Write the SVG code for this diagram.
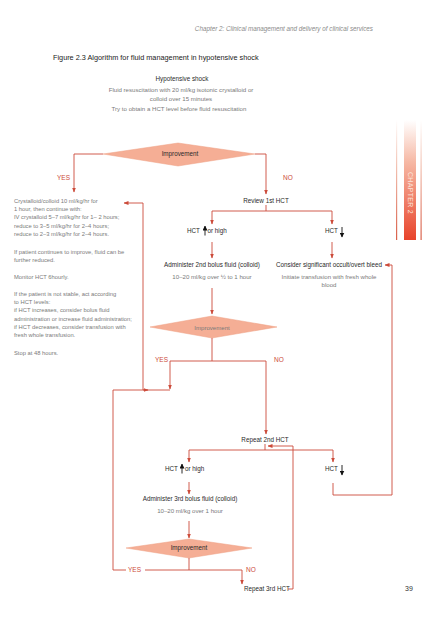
<svg xmlns="http://www.w3.org/2000/svg" width="426" height="640" viewBox="0 0 426 640">
<defs>
<marker id="ah" viewBox="0 0 10 10" refX="9" refY="5" markerWidth="5" markerHeight="5" orient="auto" markerUnits="userSpaceOnUse">
<path d="M0,1 L10,5 L0,9 Z" fill="#cc4b3a"/>
</marker>
<marker id="bk" viewBox="0 0 10 10" refX="9" refY="5" markerWidth="5" markerHeight="5" orient="auto" markerUnits="userSpaceOnUse">
<path d="M0,0 L10,5 L0,10 Z" fill="#111"/>
</marker>
<linearGradient id="tab" x1="0" y1="0" x2="0" y2="1">
<stop offset="0" stop-color="#ffffff"/>
<stop offset="0.35" stop-color="#f6b8a4"/>
<stop offset="1" stop-color="#e8432b"/>
</linearGradient>
<linearGradient id="tabl" x1="0" y1="0" x2="0" y2="1">
<stop offset="0" stop-color="#ffffff"/>
<stop offset="0.4" stop-color="#f2c0b0"/>
<stop offset="1" stop-color="#d9604a"/>
</linearGradient>
</defs>
<style>
text{font-family:"Liberation Sans","DejaVu Sans",sans-serif;}
.b{font-size:6.1px;fill:#7a7a7a;}
.l{font-size:5.8px;fill:#7a7a7a;}
.d{font-size:6.3px;fill:#2a2a2a;}
.r{font-size:6.5px;fill:#cc4b3a;}
.c{text-anchor:middle;}
.ln{fill:none;stroke:#cc4b3a;stroke-width:0.9;}
.dm{fill:#f5ae95;stroke:#eea085;stroke-width:0.5;}
</style>
<rect width="426" height="640" fill="#ffffff"/>
<g id="header">
<text x="373" y="31" font-size="6.3" font-style="italic" fill="#8a8a8a" text-anchor="end">Chapter 2: Clinical management and delivery of clinical services</text>
<text x="53" y="59.5" font-size="7.3" fill="#222">Figure 2.3 Algorithm for fluid management in hypotensive shock</text>
</g>
<g id="chapter-tab">
<rect x="396" y="120" width="1.2" height="120" fill="url(#tabl)"/>
<rect x="404" y="120" width="12" height="120" fill="url(#tab)"/>
<rect x="420.5" y="120" width="1.2" height="120" fill="url(#tabl)"/>
<text transform="translate(407.5,172) rotate(90)" font-size="7" fill="#fbe3da" letter-spacing="0.3">CHAPTER 2</text>
</g>
<g id="start">
<text class="d c" x="182" y="81">Hypotensive shock</text>
<text class="b c" x="181" y="92">Fluid resuscitation with 20 ml/kg isotonic crystalloid or</text>
<text class="b c" x="181" y="100.5">colloid over 15 minutes</text>
<text class="b c" x="179" y="111">Try to obtain a HCT level before fluid resuscitation</text>
</g>
<g id="improvement-1">
<polygon class="dm" points="103,154 178,143 255,154 178,166"/>
<text class="d c" x="180" y="156">Improvement</text>
</g>
<g id="fluid-plan">
<text class="l" x="14" y="203">Crystalloid/colloid 10 ml/kg/hr for</text>
<text class="l" x="14" y="211.2">1 hour, then continue with:</text>
<text class="l" x="14" y="219.4">IV crystalloid 5–7 ml/kg/hr for 1– 2 hours;</text>
<text class="l" x="14" y="227.6">reduce to 3–5 ml/kg/hr for 2–4 hours;</text>
<text class="l" x="14" y="235.8">reduce to 2–3 ml/kg/hr for 2–4 hours.</text>
<text class="l" x="14" y="253.5">If patient continues to improve, fluid can be</text>
<text class="l" x="14" y="261.7">further reduced.</text>
<text class="l" x="14" y="278.5">Monitor HCT 6hourly.</text>
<text class="l" x="14" y="296">If the patient is not stable, act according</text>
<text class="l" x="14" y="304.2">to HCT levels:</text>
<text class="l" x="14" y="312.4">if HCT increases, consider bolus fluid</text>
<text class="l" x="14" y="320.6">administration or increase fluid administration;</text>
<text class="l" x="14" y="328.8">if HCT decreases, consider transfusion with</text>
<text class="l" x="14" y="337">fresh whole transfusion.</text>
<text class="l" x="14" y="355">Stop at 48 hours.</text>
</g>
<g id="review-1">
<text class="d c" x="266" y="203">Review 1st HCT</text>
</g>
<g id="hct-up-1">
<text class="d" x="187" y="233">HCT</text>
<line x1="205" y1="235.5" x2="205" y2="226" stroke="#111" stroke-width="0.9" marker-end="url(#bk)"/>
<text class="d" x="207.5" y="233">or high</text>
</g>
<g id="hct-down-1">
<text class="d" x="325" y="233">HCT</text>
<line x1="342" y1="227" x2="342" y2="237" stroke="#111" stroke-width="0.9" marker-end="url(#bk)"/>
</g>
<g id="bolus-2">
<text class="d c" x="212" y="267">Administer 2nd bolus fluid (colloid)</text>
<text class="b c" x="212" y="278.5">10–20 ml/kg over ½ to 1 hour</text>
</g>
<g id="bleed">
<text class="d c" x="329" y="267">Consider significant occult/overt bleed</text>
<text class="b c" x="329" y="278.5">Initiate transfusion with fresh whole</text>
<text class="b c" x="329" y="286.5">blood</text>
</g>
<g id="improvement-2">
<polygon class="dm" points="150,327 212,316 277,327 212,338"/>
<text class="b c" x="212" y="329.5" fill="#6e5a55">Improvement</text>
</g>
<g id="repeat-2">
<text class="d c" x="265" y="442">Repeat 2nd HCT</text>
</g>
<g id="hct-up-2">
<text class="d" x="165" y="471">HCT</text>
<line x1="182" y1="473.5" x2="182" y2="464" stroke="#111" stroke-width="0.9" marker-end="url(#bk)"/>
<text class="d" x="185" y="471">or high</text>
</g>
<g id="hct-down-2">
<text class="d" x="325" y="471">HCT</text>
<line x1="342" y1="465" x2="342" y2="475" stroke="#111" stroke-width="0.9" marker-end="url(#bk)"/>
</g>
<g id="bolus-3">
<text class="d c" x="190" y="501">Administer 3rd bolus fluid (colloid)</text>
<text class="b c" x="190" y="513">10–20 ml/kg over 1 hour</text>
</g>
<g id="improvement-3">
<polygon class="dm" points="126,548 189,539 252,548 189,558"/>
<text class="d c" x="189" y="550">Improvement</text>
</g>
<g id="repeat-3">
<text class="d" x="244" y="591">Repeat 3rd HCT</text>
</g>
<g id="page-number">
<text x="405" y="591" font-size="7" fill="#333">39</text>
</g>
<g id="labels">
<text class="r" x="57" y="180">YES</text>
<text class="r" x="283" y="180">NO</text>
<text class="r" x="155" y="362">YES</text>
<text class="r" x="274" y="362">NO</text>
<text class="r" x="128" y="572">YES</text>
<text class="r" x="246" y="572">NO</text>
</g>
<g id="connectors">
<path class="ln" d="M103,154 H74 V192" marker-end="url(#ah)"/>
<path class="ln" d="M255,154 H266 V194" marker-end="url(#ah)"/>
<path class="ln" d="M266,205 V211"/>
<path class="ln" d="M212,211 H332"/>
<path class="ln" d="M212,211 V224" marker-end="url(#ah)"/>
<path class="ln" d="M332,211 V224" marker-end="url(#ah)"/>
<path class="ln" d="M212,242 V258" marker-end="url(#ah)"/>
<path class="ln" d="M332,242 V258" marker-end="url(#ah)"/>
<path class="ln" d="M212,288 V314" marker-end="url(#ah)"/>
<path class="ln" d="M212,338 V361"/>
<path class="ln" d="M170,361 H266"/>
<path class="ln" d="M170,361 V389" marker-end="url(#ah)"/>
<path class="ln" d="M170,390 H143 V203 H124" marker-end="url(#ah)"/>
<path class="ln" d="M189,558 V570"/>
<path class="ln" d="M126,570 H113 V390 H148" marker-end="url(#ah)"/>
<path class="ln" d="M145,570 H242 V584" marker-end="url(#ah)"/>
<path class="ln" d="M266,361 V434" marker-end="url(#ah)"/>
<path class="ln" d="M265,444 V450"/>
<path class="ln" d="M189,450 H333"/>
<path class="ln" d="M189,450 V462" marker-end="url(#ah)"/>
<path class="ln" d="M333,450 V462" marker-end="url(#ah)"/>
<path class="ln" d="M288,589 H293 V446 H268" marker-end="url(#ah)"/>
<path class="ln" d="M189,482 V494" marker-end="url(#ah)"/>
<path class="ln" d="M189,521 V538" marker-end="url(#ah)"/>
<path class="ln" d="M333,483 V495 H392 V265 H385" marker-end="url(#ah)"/>
</g>
</svg>
